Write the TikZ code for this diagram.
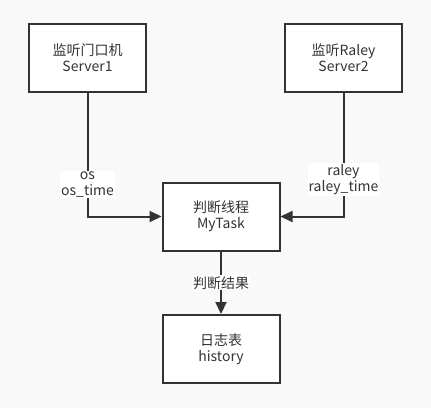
\documentclass[tikz,border=0pt]{standalone}
\usepackage{fontspec}
\setmainfont{Noto Sans CJK SC}
\usetikzlibrary{arrows.meta}
\definecolor{bgcol}{HTML}{F9F9F9}
\definecolor{linecol}{HTML}{333333}

\begin{document}
\begin{tikzpicture}[x=1pt, y=-1pt,
    box/.style={draw=linecol, line width=2pt, fill=white, minimum width=117pt,
        minimum height=68pt, align=center, text=linecol, font=\fontsize{14}{16}\selectfont},
    link/.style={draw=linecol, line width=2pt, -{Triangle[length=12pt, width=11pt]}},
    tag/.style={fill=white, align=center, text=linecol, inner sep=1pt,
        font=\fontsize{14}{16}\selectfont}]
    % Background and margins
    \fill[bgcol] (0,0) rectangle (431,408);
    \useasboundingbox (0,0) rectangle (431,408);

    % Boxes
    \node[box] (door) at (87.5,58) {监听门口机\\Server1};
    \node[box] (raley) at (343.5,58) {监听Raley\\Server2};
    \node[box] (task) at (221,216.5) {判断线程\\MyTask};
    \node[box] (history) at (221,349) {日志表\\history};

    % Connectors
    \draw[link] (door.south) |- node[tag, pos=0.37] {os\\os\_time} (task.west);
    \draw[link] (raley.south) |- node[tag, pos=0.35] {raley\\raley\_time} (task.east);
    \draw[link] (task.south) -- node[tag] {判断结果} (history.north);
\end{tikzpicture}
\end{document}
